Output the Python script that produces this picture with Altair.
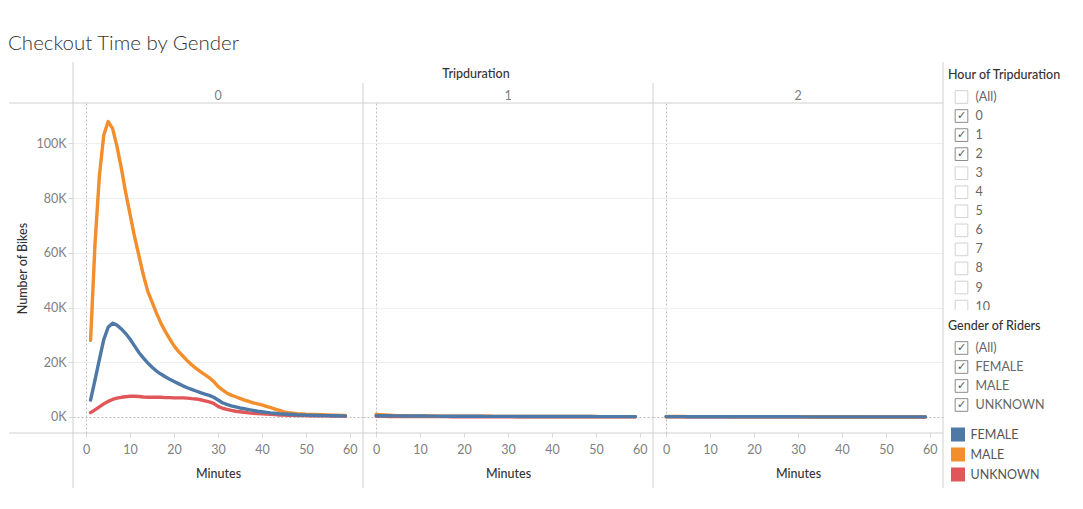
import altair as alt
import pandas as pd

# ---------------- data ----------------
genders = ["FEMALE", "MALE", "UNKNOWN"]
gender_colors = ["#4E79A7", "#F28E2B", "#E15759"]
trip_hours = [0, 1, 2]

# hour 0 of trip duration: minutes 1..59 (values in thousands of bikes)
minutes_h0 = list(range(1, 60))
female_h0 = [6.2, 13.5, 21.0, 28.3, 32.8, 34.3, 33.6, 32.2, 30.5, 28.4,
             26.0, 23.6, 21.6, 19.8, 18.2, 16.8, 15.7, 14.7, 13.8, 13.0,
             12.2, 11.4, 10.7, 10.1, 9.5, 8.9, 8.4, 7.9, 7.2, 6.2,
             5.2, 4.6, 4.1, 3.7, 3.3, 3.0, 2.7, 2.4, 2.1, 1.9,
             1.7, 1.5, 1.35, 1.2, 1.1, 1.0, 0.9, 0.8, 0.75, 0.7,
             0.65, 0.6, 0.55, 0.5, 0.5, 0.45, 0.45, 0.4, 0.4]
male_h0 = [28, 63, 88, 103, 108, 105.5, 99, 91, 82, 74,
           66, 59, 52, 46, 42, 38, 34.3, 31.3, 28.6, 26.0,
           24.0, 22.3, 20.6, 19.1, 17.8, 16.6, 15.5, 14.4, 13.0, 11.2,
           9.9, 8.8, 8.0, 7.4, 6.8, 6.2, 5.7, 5.2, 4.8, 4.4,
           3.9, 3.4, 2.9, 2.4, 1.9, 1.6, 1.4, 1.2, 1.1, 1.0,
           0.95, 0.9, 0.85, 0.8, 0.75, 0.7, 0.65, 0.6, 0.6]
unknown_h0 = [1.6, 2.6, 3.7, 4.8, 5.7, 6.4, 6.9, 7.2, 7.4, 7.6,
              7.6, 7.5, 7.3, 7.2, 7.2, 7.2, 7.2, 7.1, 7.1, 7.0,
              7.0, 7.0, 6.9, 6.7, 6.6, 6.3, 5.9, 5.5, 5.0, 3.9,
              3.2, 2.8, 2.4, 2.1, 1.9, 1.7, 1.5, 1.35, 1.25, 1.15,
              1.05, 0.95, 0.85, 0.75, 0.7, 0.65, 0.6, 0.55, 0.5, 0.5,
              0.45, 0.45, 0.4, 0.4, 0.4, 0.35, 0.35, 0.35, 0.3]

# hours 1 and 2: minutes 0..59
minutes_h12 = list(range(0, 60))
female_h1 = [0.5, 0.48, 0.46, 0.44, 0.42, 0.4, 0.39, 0.38, 0.37, 0.36,
             0.35, 0.34, 0.33, 0.32, 0.31, 0.3, 0.3, 0.29, 0.28, 0.28,
             0.27, 0.26, 0.26, 0.25, 0.25, 0.24, 0.24, 0.23, 0.23, 0.22,
             0.22, 0.21, 0.21, 0.2, 0.2, 0.2, 0.19, 0.19, 0.19, 0.18,
             0.18, 0.18, 0.17, 0.17, 0.17, 0.17, 0.16, 0.16, 0.16, 0.16,
             0.15, 0.15, 0.15, 0.15, 0.15, 0.14, 0.14, 0.14, 0.14, 0.14]
male_h1 = [1.0, 0.85, 0.72, 0.62, 0.55, 0.5, 0.46, 0.43, 0.41, 0.39,
           0.37, 0.36, 0.35, 0.34, 0.33, 0.32, 0.31, 0.3, 0.3, 0.29,
           0.28, 0.28, 0.27, 0.26, 0.26, 0.25, 0.25, 0.24, 0.24, 0.23,
           0.23, 0.22, 0.22, 0.21, 0.21, 0.2, 0.2, 0.2, 0.19, 0.19,
           0.19, 0.18, 0.18, 0.18, 0.17, 0.17, 0.17, 0.16, 0.16, 0.16,
           0.16, 0.15, 0.15, 0.15, 0.15, 0.14, 0.14, 0.14, 0.14, 0.13]
unknown_h1 = [0.25, 0.24, 0.22, 0.2, 0.19, 0.18, 0.17, 0.16, 0.15, 0.15,
              0.14, 0.14, 0.13, 0.13, 0.12, 0.12, 0.12, 0.11, 0.11, 0.11,
              0.1, 0.1, 0.1, 0.1, 0.09, 0.09, 0.09, 0.09, 0.09, 0.08,
              0.08, 0.08, 0.08, 0.08, 0.08, 0.07, 0.07, 0.07, 0.07, 0.07,
              0.07, 0.07, 0.06, 0.06, 0.06, 0.06, 0.06, 0.06, 0.06, 0.06,
              0.05, 0.05, 0.05, 0.05, 0.05, 0.05, 0.05, 0.05, 0.05, 0.05]
female_h2 = [0.14, 0.13, 0.13, 0.12, 0.12, 0.11, 0.11, 0.11, 0.1, 0.1,
             0.1, 0.1, 0.09, 0.09, 0.09, 0.09, 0.09, 0.08, 0.08, 0.08,
             0.08, 0.08, 0.08, 0.07, 0.07, 0.07, 0.07, 0.07, 0.07, 0.07,
             0.07, 0.06, 0.06, 0.06, 0.06, 0.06, 0.06, 0.06, 0.06, 0.06,
             0.06, 0.05, 0.05, 0.05, 0.05, 0.05, 0.05, 0.05, 0.05, 0.05,
             0.05, 0.05, 0.05, 0.05, 0.04, 0.04, 0.04, 0.04, 0.04, 0.04]
male_h2 = [0.2, 0.19, 0.18, 0.17, 0.16, 0.15, 0.15, 0.14, 0.14, 0.13,
           0.13, 0.13, 0.12, 0.12, 0.12, 0.11, 0.11, 0.11, 0.11, 0.1,
           0.1, 0.1, 0.1, 0.1, 0.09, 0.09, 0.09, 0.09, 0.09, 0.09,
           0.08, 0.08, 0.08, 0.08, 0.08, 0.08, 0.08, 0.07, 0.07, 0.07,
           0.07, 0.07, 0.07, 0.07, 0.07, 0.06, 0.06, 0.06, 0.06, 0.06,
           0.06, 0.06, 0.06, 0.06, 0.06, 0.06, 0.06, 0.06, 0.06, 0.06]
unknown_h2 = [0.06, 0.06, 0.05, 0.05, 0.05, 0.05, 0.05, 0.04, 0.04, 0.04,
              0.04, 0.04, 0.04, 0.04, 0.04, 0.03, 0.03, 0.03, 0.03, 0.03,
              0.03, 0.03, 0.03, 0.03, 0.03, 0.03, 0.03, 0.03, 0.03, 0.03,
              0.03, 0.03, 0.03, 0.02, 0.02, 0.02, 0.02, 0.02, 0.02, 0.02,
              0.02, 0.02, 0.02, 0.02, 0.02, 0.02, 0.02, 0.02, 0.02, 0.02,
              0.02, 0.02, 0.02, 0.02, 0.02, 0.02, 0.02, 0.02, 0.02, 0.02]

series = {
    ("UNKNOWN", 0): (minutes_h0, unknown_h0),
    ("UNKNOWN", 1): (minutes_h12, unknown_h1),
    ("UNKNOWN", 2): (minutes_h12, unknown_h2),
    ("MALE", 0): (minutes_h0, male_h0),
    ("MALE", 1): (minutes_h12, male_h1),
    ("MALE", 2): (minutes_h12, male_h2),
    ("FEMALE", 0): (minutes_h0, female_h0),
    ("FEMALE", 1): (minutes_h12, female_h1),
    ("FEMALE", 2): (minutes_h12, female_h2),
}

# filter widget contents
hour_items = ["(All)", "0", "1", "2", "3", "4", "5", "6", "7", "8", "9", "10"]
hour_checked = [False, True, True, True, False, False, False, False, False, False, False, False]
gender_items = ["(All)", "FEMALE", "MALE", "UNKNOWN"]
gender_checked = [True, True, True, True]

# ---------------- build tables ----------------
rows = []
for (g, h), (mins, vals) in series.items():
    for m, v in zip(mins, vals):
        rows.append({"trip": h, "minute": m, "gender": g, "bikes": v * 1000})
df = pd.DataFrame(rows)

FONT = "Lato"
BORDER = "#d0d0d0"
W, H = 290, 330
EXT = 64  # pane lines continue under the y-axis area

xscale = alt.Scale(domain=[-3, 63], nice=False, zero=False)
yscale = alt.Scale(domain=[-5850, 114800], nice=False, zero=False)
cscale = alt.Scale(domain=genders, range=gender_colors)

zero_test = "datum.value === 0"

xaxis = alt.Axis(values=[0, 10, 20, 30, 40, 50, 60], title="Minutes", grid=True,
                 gridColor="#bdbdbd",
                 gridOpacity=alt.condition(zero_test, alt.value(1), alt.value(0)),
                 gridDash=alt.condition(zero_test, alt.value([2, 2]), alt.value([])),
                 domain=False, ticks=True, tickColor="#d8d8d8", tickSize=4,
                 labelColor="#808080", labelFont=FONT, labelFontSize=12.5, labelPadding=6,
                 titleColor="#333333", titleFont=FONT, titleFontSize=12.5,
                 titleFontWeight=500, titlePadding=12)
yaxis = alt.Axis(values=[0, 20000, 40000, 60000, 80000, 100000],
                 labelExpr="format(datum.value / 1000, 'd') + 'K'",
                 title="Number of Bikes", grid=True,
                 gridColor=alt.condition(zero_test, alt.value("#bdbdbd"), alt.value("#efefef")),
                 gridDash=alt.condition(zero_test, alt.value([2, 2]), alt.value([])),
                 domain=False, ticks=True, tickColor="#d8d8d8", tickSize=5,
                 labelColor="#808080", labelFont=FONT, labelFontSize=12.5, labelPadding=2,
                 titleColor="#333333", titleFont=FONT, titleFontSize=12.5,
                 titleFontWeight=500, titlePadding=6)

lines = alt.Chart().mark_line(strokeWidth=3.4, strokeJoin="round", strokeCap="round").encode(
    x=alt.X("minute:Q", scale=xscale, axis=xaxis),
    y=alt.Y("bikes:Q", scale=yscale, axis=yaxis),
    color=alt.Color("gender:N", scale=cscale, legend=None),
)

one_per_panel = alt.Chart().transform_aggregate(n="count()", groupby=["trip"])


def edge_rule(flt, **enc):
    return one_per_panel.transform_filter(flt).mark_rule(color=BORDER, strokeWidth=1).encode(**enc)


borders = [
    # left edge of every panel (outer one reaches the top of the header)
    edge_rule("datum.trip == 0", x=alt.value(0), y=alt.value(-41), y2=alt.value(H + 55)),
    edge_rule("datum.trip != 0", x=alt.value(0), y=alt.value(-20), y2=alt.value(H + 55)),
    # right edge of the last panel
    edge_rule("datum.trip == 2", x=alt.value(W), y=alt.value(-41), y2=alt.value(H + 55)),
    # top and bottom pane lines
    edge_rule("datum.trip >= 0", x=alt.value(0), x2=alt.value(W), y=alt.value(0)),
    edge_rule("datum.trip >= 0", x=alt.value(0), x2=alt.value(W), y=alt.value(H)),
    # extensions under the y-axis area
    edge_rule("datum.trip == 0", x=alt.value(-EXT), x2=alt.value(0), y=alt.value(0)),
    edge_rule("datum.trip == 0", x=alt.value(-EXT), x2=alt.value(0), y=alt.value(H)),
]

panel = alt.layer(lines, *borders).properties(width=W, height=H)

facet = panel.facet(
    column=alt.Column("trip:O", header=alt.Header(
        title="Tripduration", titleFont=FONT, titleFontSize=12.5, titleColor="#333333",
        titleFontWeight=500, titlePadding=0,
        labelFont=FONT, labelFontSize=12.5, labelColor="#808080", labelPadding=0.5)),
    data=df, spacing=0, bounds="flush")

# ---------------- filter widgets (right) ----------------
# y positions are relative to the top of the plotting panes
hour_df = pd.DataFrame({
    "label": hour_items,
    "checked": hour_checked,
    "yp": [-6 + 19.05 * i for i in range(len(hour_items))],
})
gen_df = pd.DataFrame({
    "label": gender_items,
    "checked": gender_checked,
    "yp": [245 + 19 * i for i in range(len(gender_items))],
})
leg_df = pd.DataFrame({
    "gender": genders,
    "yp": [331.5 + 20 * i for i in range(len(genders))],
})
titles_df = pd.DataFrame({
    "t": ["Hour of Tripduration", "Gender of Riders"],
    "yp": [-28, 223],
})
items_df = pd.concat([hour_df, gen_df], ignore_index=True)

SIDE_W = 124

ttl = alt.Chart(titles_df).mark_text(
    align="left", baseline="middle", font=FONT, fontSize=12.5, fontWeight=500,
    color="#333333").encode(x=alt.value(0), y=alt.Y("yp:Q", scale=None), text="t:N")
boxes = alt.Chart(items_df).mark_square(size=160, fill="white", strokeWidth=1, opacity=1).encode(
    x=alt.value(13.5), y=alt.Y("yp:Q", scale=None),
    stroke=alt.condition("datum.checked", alt.value("#8a8a8a"), alt.value("#d2d2d2")))
checks = alt.Chart(items_df).transform_filter("datum.checked").mark_text(
    text="\u2713", font="DejaVu Sans", fontSize=11, color="#555555",
    align="center", baseline="middle").encode(
    x=alt.value(13.5), y=alt.Y("yp:Q", scale=None))
labels = alt.Chart(items_df).mark_text(align="left", baseline="middle", font=FONT, fontSize=12.5,
                                       color="#666666").encode(
    x=alt.value(27.5), y=alt.Y("yp:Q", scale=None), text="label:N")
# the hour list is a scrolling box: its last row is cut at the box's lower edge
mask = alt.Chart(titles_df).transform_filter("datum.yp < 0").mark_rect(
    color="white", opacity=1).encode(
    x=alt.value(0), x2=alt.value(SIDE_W), y=alt.value(207), y2=alt.value(214))
leg_sq = alt.Chart(leg_df).mark_square(size=196, opacity=1).encode(
    x=alt.value(10), y=alt.Y("yp:Q", scale=None),
    color=alt.Color("gender:N", scale=cscale, legend=None))
leg_tx = alt.Chart(leg_df).mark_text(align="left", baseline="middle", font=FONT, fontSize=12.5,
                                     color="#555555").encode(
    x=alt.value(22.5), y=alt.Y("yp:Q", scale=None), text="gender:N")

side = alt.layer(ttl, boxes, checks, labels, mask, leg_sq, leg_tx).properties(
    width=SIDE_W, height=H)

chart = alt.hconcat(facet, side, spacing=3).properties(
    title=alt.TitleParams("Checkout Time by Gender", anchor="start", fontSize=20.5, font=FONT,
                          fontWeight=300, color="#333333", offset=7),
    padding={"left": 0, "top": 25, "right": 0, "bottom": 0},
).configure(font=FONT, view=alt.ViewConfig(stroke="transparent"))

chart.save("out.html", embed_options={"renderer": "svg", "actions": False})
